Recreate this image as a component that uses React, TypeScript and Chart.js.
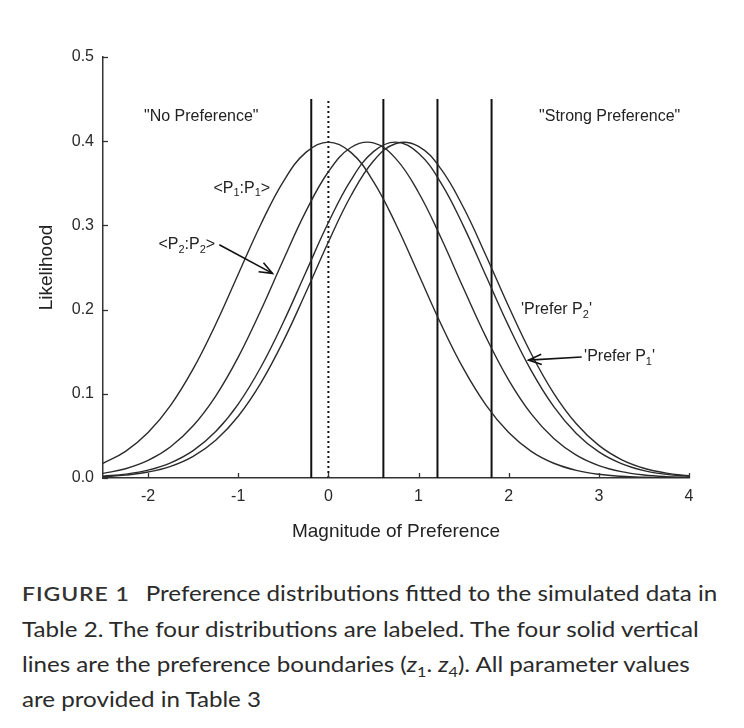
import React, { useEffect, useRef } from "react";
import { Chart, registerables } from "chart.js";
Chart.register(...registerables);

// ---- data ----
const xValues = [-2.5, -2.25, -2, -1.75, -1.5, -1.25, -1, -0.75, -0.5, -0.25, 0, 0.25, 0.5, 0.75, 1, 1.25, 1.5, 1.75, 2, 2.25, 2.5, 2.75, 3, 3.25, 3.5, 3.75, 4];
const curveP1P1 = [0.0175, 0.0317, 0.054, 0.0863, 0.1295, 0.1826, 0.242, 0.3011, 0.3521, 0.3867, 0.3989, 0.3867, 0.3521, 0.3011, 0.242, 0.1826, 0.1295, 0.0863, 0.054, 0.0317, 0.0175, 0.0091, 0.0044, 0.002, 0.0009, 0.0004, 0.0001];
const curveP2P2 = [0.0055, 0.011, 0.0208, 0.0371, 0.062, 0.0973, 0.1435, 0.1989, 0.2589, 0.3166, 0.3637, 0.3925, 0.398, 0.379, 0.3391, 0.285, 0.225, 0.167, 0.1163, 0.0761, 0.0468, 0.0271, 0.0147, 0.0075, 0.0036, 0.0016, 0.0007];
const curvePreferP1 = [0.0021, 0.0046, 0.0093, 0.018, 0.0325, 0.0551, 0.0878, 0.1315, 0.1849, 0.2444, 0.3034, 0.3538, 0.3876, 0.3989, 0.3857, 0.3503, 0.2989, 0.2396, 0.1804, 0.1276, 0.0848, 0.0529, 0.031, 0.0171, 0.0088, 0.0043, 0.002];
const curvePreferP2 = [0.0015, 0.0034, 0.0071, 0.0139, 0.0258, 0.0449, 0.0734, 0.1127, 0.1625, 0.2203, 0.2803, 0.3352, 0.3765, 0.3973, 0.3939, 0.3668, 0.3209, 0.2637, 0.2036, 0.1476, 0.1006, 0.0644, 0.0387, 0.0219, 0.0116, 0.0058, 0.0027];
const boundaries = [-0.19, 0.61, 1.21, 1.81];
const zeroLine = 0;
const lineTop = 0.45;
const xTicks = [-2, -1, 0, 1, 2, 3, 4];
const yTicks = [0, 0.1, 0.2, 0.3, 0.4, 0.5];

type Part = { t: string; sub?: boolean };
const labels: { parts: Part[]; x: number; y: number }[] = [
  { parts: [{ t: '"No Preference"' }], x: -1.41, y: 0.429 },
  { parts: [{ t: '"Strong Preference"' }], x: 3.12, y: 0.429 },
  { parts: [{ t: "<P" }, { t: "1", sub: true }, { t: ":P" }, { t: "1", sub: true }, { t: ">" }], x: -0.96, y: 0.344 },
  { parts: [{ t: "<P" }, { t: "2", sub: true }, { t: ":P" }, { t: "2", sub: true }, { t: ">" }], x: -1.57, y: 0.277 },
  { parts: [{ t: "'Prefer P" }, { t: "2", sub: true }, { t: "'" }], x: 2.53, y: 0.2 },
  { parts: [{ t: "'Prefer P" }, { t: "1", sub: true }, { t: "'" }], x: 3.23, y: 0.144 },
];
const arrows = [
  { from: [-1.21, 0.277], to: [-0.62, 0.243] },
  { from: [2.81, 0.1437], to: [2.22, 0.14] },
];

const FONT = '"Liberation Sans", Arial, sans-serif';

const decorPlugin = {
  id: "decor",
  afterDatasetsDraw(chart: any) {
    const { ctx, scales } = chart;
    const x = scales.x;
    const y = scales.y;
    ctx.save();
    // inward tick marks
    ctx.strokeStyle = "#333";
    ctx.lineWidth = 1.3;
    for (const v of xTicks) {
      const px = Math.round(x.getPixelForValue(v)) + 0.5;
      ctx.beginPath();
      ctx.moveTo(px, y.bottom);
      ctx.lineTo(px, y.bottom - 5);
      ctx.stroke();
    }
    for (const v of yTicks) {
      const py = Math.round(y.getPixelForValue(v)) + 0.5;
      ctx.beginPath();
      ctx.moveTo(x.left, py);
      ctx.lineTo(x.left + 5, py);
      ctx.stroke();
    }
    // text labels
    ctx.fillStyle = "#222";
    ctx.textBaseline = "middle";
    ctx.textAlign = "left";
    const main = `16px ${FONT}`;
    const sub = `11px ${FONT}`;
    for (const lab of labels) {
      let w = 0;
      for (const p of lab.parts) {
        ctx.font = p.sub ? sub : main;
        w += ctx.measureText(p.t).width;
      }
      let cx = x.getPixelForValue(lab.x) - w / 2;
      const cy = y.getPixelForValue(lab.y);
      for (const p of lab.parts) {
        ctx.font = p.sub ? sub : main;
        ctx.fillText(p.t, cx, p.sub ? cy + 5 : cy);
        cx += ctx.measureText(p.t).width;
      }
    }
    // arrows
    ctx.strokeStyle = "#111";
    ctx.lineWidth = 1.6;
    for (const a of arrows) {
      const x0 = x.getPixelForValue(a.from[0]);
      const y0 = y.getPixelForValue(a.from[1]);
      const x1 = x.getPixelForValue(a.to[0]);
      const y1 = y.getPixelForValue(a.to[1]);
      ctx.beginPath();
      ctx.moveTo(x0, y0);
      ctx.lineTo(x1, y1);
      ctx.stroke();
      const ang = Math.atan2(y1 - y0, x1 - x0);
      const len = 14;
      const spread = 0.38;
      ctx.beginPath();
      ctx.moveTo(x1 - len * Math.cos(ang - spread), y1 - len * Math.sin(ang - spread));
      ctx.lineTo(x1, y1);
      ctx.lineTo(x1 - len * Math.cos(ang + spread), y1 - len * Math.sin(ang + spread));
      ctx.stroke();
    }
    ctx.restore();
  },
};

const subStyle: React.CSSProperties = {
  fontSize: 14,
  lineHeight: 0,
  verticalAlign: "baseline",
  position: "relative",
  top: 5,
};

export default function App() {
  const ref = useRef<HTMLCanvasElement>(null);
  useEffect(() => {
    if (!ref.current) return;
    const curve = (vals: number[]) => ({
      data: xValues.map((xv, i) => ({ x: xv, y: vals[i] })),
      borderColor: "#2b2b2b",
      borderWidth: 1.4,
      pointRadius: 0,
      tension: 0.4,
      fill: false,
    });
    const vline = (v: number, dashed: boolean) => ({
      data: [{ x: v, y: 0 }, { x: v, y: lineTop }],
      borderColor: "#111",
      borderWidth: 2,
      borderDash: dashed ? [2, 3] : [],
      pointRadius: 0,
      tension: 0,
      fill: false,
    });
    const chart = new Chart(ref.current, {
      type: "line",
      data: {
        datasets: [
          curve(curveP1P1),
          curve(curveP2P2),
          curve(curvePreferP1),
          curve(curvePreferP2),
          ...boundaries.map((b) => vline(b, false)),
          vline(zeroLine, true),
        ] as any,
      },
      options: {
        animation: false,
        responsive: false,
        devicePixelRatio: 1,
        layout: { padding: { top: 57, right: 55, bottom: 12, left: 0 } },
        plugins: { legend: { display: false }, tooltip: { enabled: false } },
        scales: {
          x: {
            type: "linear",
            min: -2.5,
            max: 4,
            afterBuildTicks: (s: any) => {
              s.ticks = xTicks.map((v) => ({ value: v }));
            },
            afterFit: (s: any) => {
              s.height = 70;
            },
            grid: { display: false, drawTicks: false },
            border: { display: true, color: "#333", width: 1.5 },
            ticks: {
              color: "#2a2a2a",
              font: { family: FONT, size: 16 },
              padding: 9,
              maxRotation: 0,
              callback: (v: any) => String(v),
            },
            title: {
              display: true,
              text: "Magnitude of Preference",
              color: "#222",
              font: { family: FONT, size: 19 },
              padding: { top: 0, bottom: 5 },
            },
          },
          y: {
            type: "linear",
            min: 0,
            max: 0.5,
            afterBuildTicks: (s: any) => {
              s.ticks = yTicks.map((v) => ({ value: v }));
            },
            afterFit: (s: any) => {
              s.width = 103;
            },
            grid: { display: false, drawTicks: false },
            border: { display: true, color: "#333", width: 1.5 },
            ticks: {
              color: "#2a2a2a",
              font: { family: FONT, size: 16 },
              padding: 9,
              callback: (v: any) => Number(v).toFixed(1),
            },
            title: {
              display: true,
              text: "Likelihood",
              color: "#222",
              font: { family: FONT, size: 19 },
              padding: { top: 35, bottom: 0 },
            },
          },
        },
      },
      plugins: [decorPlugin],
    } as any);
    return () => chart.destroy();
  }, []);

  return (
    <div style={{ position: "absolute", left: 0, top: 0, width: 744, height: 728, background: "#fff", overflow: "hidden" }}>
      <canvas ref={ref} width={744} height={560} style={{ display: "block", width: 744, height: 560 }} />
      <div
        style={{
          position: "absolute",
          left: 22,
          top: 575,
          fontFamily: "Lato, 'Open Sans', sans-serif",
          fontSize: 21,
          lineHeight: "35px",
          color: "#2a2a2a",
          whiteSpace: "nowrap",
          transform: "scaleX(1.15)",
          transformOrigin: "0 0",
        }}
      >
        <span style={{ letterSpacing: 0.8, marginRight: 14, fontWeight: 600, fontSize: 20, color: "#333" }}>FIGURE 1</span>
        Preference distributions fitted to the simulated data in
        <br />
        Table 2. The four distributions are labeled. The four solid vertical
        <br />
        lines are the preference boundaries (<i>z</i>
        <sub style={subStyle}>1</sub>. <i>z</i>
        <sub style={subStyle}>4</sub>). All parameter values
        <br />
        are provided in Table 3
      </div>
    </div>
  );
}
